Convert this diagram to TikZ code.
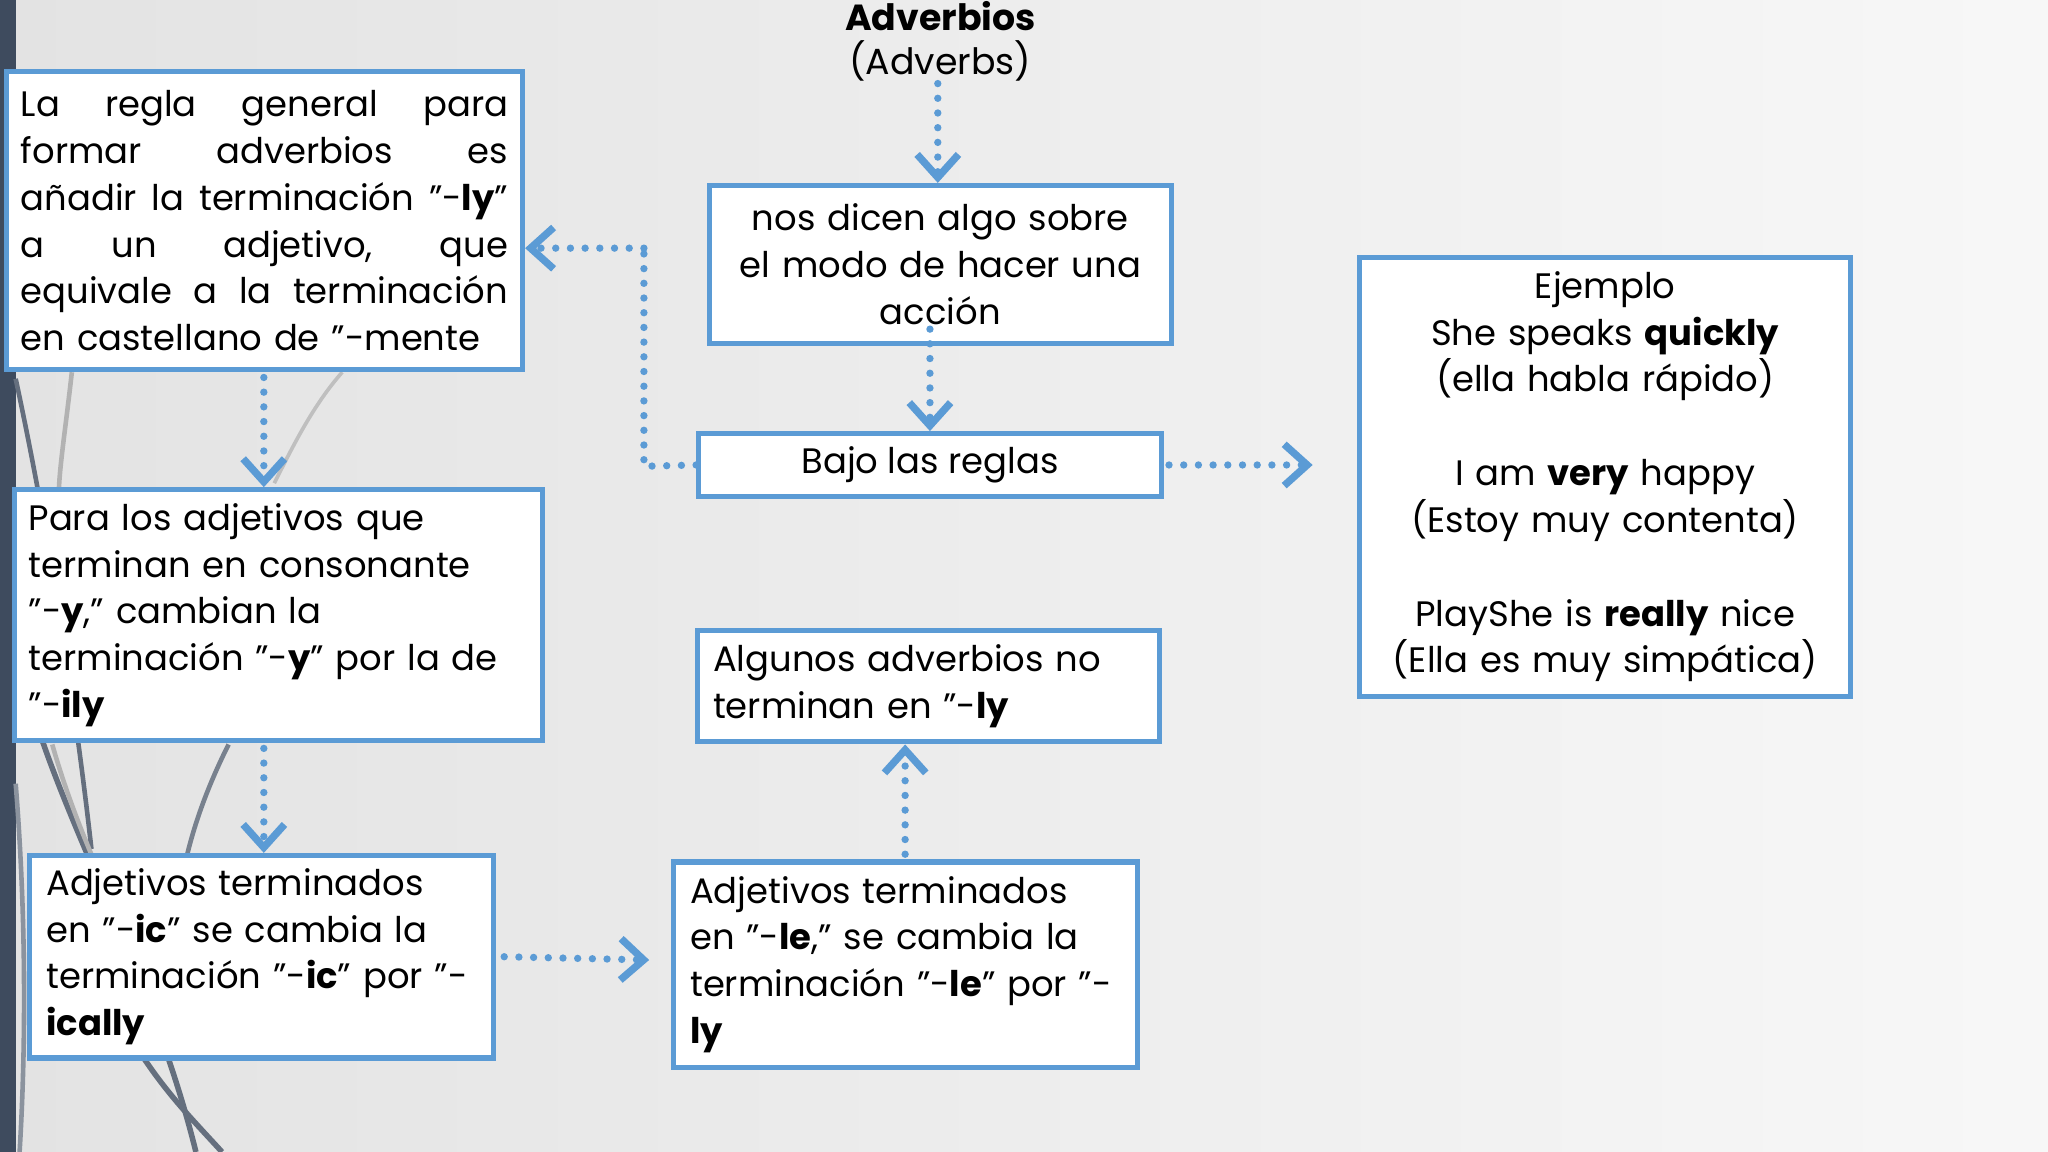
\documentclass[tikz,border=0pt]{standalone}
\usepackage{fontspec}
\setmainfont{Poppins}
\usetikzlibrary{arrows.meta}
\definecolor{bl}{HTML}{5B9BD5}
\definecolor{bar}{HTML}{3E4B5E}
\begin{document}
\begin{tikzpicture}[x=0.01cm,y=-0.01cm,
  box/.style={draw=bl,line width=1.1pt,fill=white,inner sep=0pt,font=\fontsize{7.7}{10.2}\selectfont},
  arr/.style={draw=bl,line width=1.6pt,dash pattern=on 0pt off 3.2pt,line cap=round,
     -{Straight Barb[length=5pt,width=9pt,line width=1.6pt]}},
  seg/.style={draw=bl,line width=1.6pt,dash pattern=on 0pt off 3.2pt,line cap=round}]
\useasboundingbox (0,0) rectangle (1568,882);
\shade[left color=black!11,right color=black!3] (0,0) rectangle (1568,882);
\fill[bar] (0,0) rectangle (12,882);
% decorative curves
\draw[bar!80,line width=1pt] (12,290) .. controls (40,420) and (60,560) .. (70,650);
\draw[bar!80,line width=1.2pt] (30,560) .. controls (60,650) and (120,760) .. (150,882);
\draw[bar!70,line width=1pt] (175,570) .. controls (150,620) and (140,660) .. (135,700);
\draw[gray!60,line width=1pt] (55,285) .. controls (50,330) and (45,360) .. (45,380);
\draw[gray!50,line width=0.8pt] (262,285) .. controls (240,310) and (225,340) .. (210,370);
\draw[gray!60,line width=1pt] (40,570) .. controls (60,640) and (90,700) .. (120,760);
\draw[bar!80,line width=1.2pt] (110,810) .. controls (130,840) and (150,860) .. (170,882);
\draw[bar!60,line width=1pt] (12,600) .. controls (20,700) and (20,800) .. (15,882);

\node[font=\fontsize{7.9}{10.2}\selectfont\bfseries] (t) at (720,12) {Adverbios};
\node[font=\fontsize{7.9}{10.2}\selectfont] (t2) at (720,47) {(Adverbs)};

\node[box,minimum width=3.95cm,minimum height=2.28cm,text width=3.73cm,align=left] (b1) at (202.5,169)
 {La\hfill regla\hfill general\hfill para\\formar\hfill adverbios\hfill es\\añadir\hfill la\hfill terminación\hfill "-\textbf{ly}"\\a\hfill un\hfill adjetivo,\hfill que\\equivale\hfill a\hfill la\hfill terminación\\en castellano de "-mente};
\node[box,minimum width=3.54cm,minimum height=1.21cm,text width=3.4cm,align=center] (b2) at (720,202.5)
 {nos dicen algo sobre\\el modo de hacer una\\acción};
\node[box,minimum width=3.54cm,minimum height=0.48cm,align=center] (b3) at (712,356) {Bajo las reglas};
\node[box,minimum width=3.76cm,minimum height=3.36cm,text width=3.6cm,align=center] (b4) at (1229,365)
 {Ejemplo\\She speaks \textbf{quickly}\\(ella habla rápido)\\[10.2pt]I am \textbf{very} happy\\(Estoy muy contenta)\\[10.2pt]PlayShe is \textbf{really} nice\\(Ella es muy simpática)};
\node[box,minimum width=4.04cm,minimum height=1.92cm,text width=3.82cm,align=left] (b5) at (213,471)
 {Para los adjetivos que\\terminan en consonante\\"-\textbf{y},'' cambian la\\terminación "-\textbf{y}" por la de\\"-\textbf{ily}};
\node[box,minimum width=3.54cm,minimum height=0.85cm,text width=3.3cm,align=left] (b6) at (711,525.5)
 {Algunos adverbios no\\terminan en "-\textbf{ly}};
\node[box,minimum width=3.55cm,minimum height=1.55cm,text width=3.3cm,align=left] (b7) at (200.5,732.5)
 {Adjetivos terminados\\en "-\textbf{ic}" se cambia la\\\mbox{terminación "-\textbf{ic}" por "-}\\\textbf{ically}};
\node[box,minimum width=3.55cm,minimum height=1.57cm,text width=3.3cm,align=left] (b8) at (693.5,738.5)
 {Adjetivos terminados\\en "-\textbf{le},'' se cambia la\\\mbox{terminación "-\textbf{le}" por "-}\\\textbf{ly}};

\coordinate (e1) at (1005,356);
\coordinate (c1) at (493,357);
\coordinate (c2) at (493,190);
\coordinate (e2) at (497,735);

\draw[arr] (718,64) -- (b2.north -| 718,0);
\draw[arr] (712,252) -- (b3.north -| 712,0);
\draw[seg] (b3.west) -- (c1) -- (c2);
\draw[arr] (c2) -- (c2 -| b1.east);
\draw[arr] (b3.east) ++(4,0) -- (e1);
\draw[arr] (b1.south -| 202,0) ++(0,4) -- (b5.north -| 202,0);
\draw[arr] (b5.south -| 202,0) ++(0,4) -- (b7.north -| 202,0);
\draw[arr] (b7.east) ++(6,0) -- (e2);
\draw[arr] (b8.north -| 693,0) ++(0,-4) -- (b6.south -| 693,0);
\end{tikzpicture}
\end{document}
